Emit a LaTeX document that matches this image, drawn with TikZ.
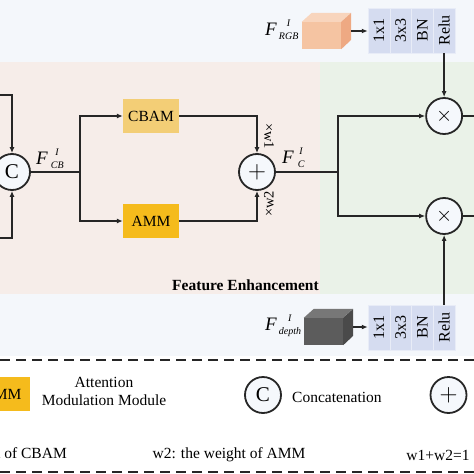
\documentclass[tikz,border=0pt]{standalone}
\usepackage{fontspec}
\setmainfont{Liberation Serif}
\usepackage{graphicx}
\usepackage{tikz}
\usetikzlibrary{arrows.meta,
                calc,
                positioning}

\definecolor{skyback}{HTML}{F4F7FB}
\definecolor{pinkback}{HTML}{F6EDE9}
\definecolor{greenback}{HTML}{EAF2E8}
\definecolor{cbamcol}{HTML}{F3CE76}
\definecolor{ammcol}{HTML}{F5BB1C}
\definecolor{convcol}{HTML}{D5DCF0}
\definecolor{opfill}{HTML}{F5F8FC}
\definecolor{linecol}{HTML}{262626}
\definecolor{rgbfront}{HTML}{F5C4A2}
\definecolor{rgbtop}{HTML}{F8D5BD}
\definecolor{rgbside}{HTML}{EEA983}
\definecolor{depthfront}{HTML}{5C5C5C}
\definecolor{depthtop}{HTML}{777777}
\definecolor{depthside}{HTML}{4A4A4A}

\newcommand{\featlab}[2]{{\fontsize{19}{19}\selectfont\textit{F}}\hspace{#2}\raisebox{-4pt}{\fontsize{10}{10}\selectfont\shortstack{\textit{I}\\[3pt]\textit{#1}}}}

\begin{document}
\begin{tikzpicture}[x=1pt, y=-1pt,
    font=\fontsize{15.5}{18}\selectfont,
    line/.style={draw=linecol, line width=1.4pt},
    arr/.style={line, -{Latex[length=6pt,width=5pt]}},
    opc/.style={circle, draw=linecol, line width=1.8pt, fill=opfill, minimum size=36pt, inner sep=0pt},
    attbox/.style={rectangle, minimum width=56pt, minimum height=34pt, inner sep=0pt},
    convcell/.style={rectangle, fill=convcol, draw=convcol!55!white, line width=0.5pt, minimum width=21.75pt, minimum height=45pt, inner sep=0pt, font=\fontsize{16}{18}\selectfont},
    cube/.style={rectangle, minimum width=39pt, minimum height=27pt, inner sep=0pt}]

\clip (0,0) rectangle (474,474);

% backgrounds
\fill[skyback] (0,0) rectangle (474,356);
\fill[pinkback] (0,62) rectangle (320,294);
\fill[greenback] (320,62) rectangle (474,294);

% input cubes
\node[cube, fill=rgbfront] (rgbcube) at (321.5,35.5) {};
\fill[rgbtop] (rgbcube.north west) -- ++(10,-9) -- ++(39,0) -- (rgbcube.north east) -- cycle;
\fill[rgbside] (rgbcube.north east) -- ++(10,-9) -- ++(0,27) -- (rgbcube.south east) -- cycle;
\node[cube, fill=depthfront] (depcube) at (323.5,331.5) {};
\fill[depthtop] (depcube.north west) -- ++(10,-9) -- ++(39,0) -- (depcube.north east) -- cycle;
\fill[depthside] (depcube.north east) -- ++(10,-9) -- ++(0,27) -- (depcube.south east) -- cycle;
\coordinate (rgbout) at ($(rgbcube.east)+(10,-4.5)$);
\coordinate (depout) at ($(depcube.east)+(10,-4.5)$);

\node[anchor=west, inner sep=0pt] (frgb) at (265,30) {\featlab{RGB}{2pt}};
\node[anchor=west, inner sep=0pt] (fdep) at (265,326) {\featlab{depth}{2pt}};

% conv blocks
\foreach \lab [count=\i] in {1x1,3x3,BN,Relu} {
    \node[convcell] (rgb\i) at ({357.125+21.75*\i},30.5) {\rotatebox{90}{\lab}};
    \node[convcell] (dep\i) at ({357.125+21.75*\i},327.5) {\rotatebox{90}{\lab}};
}

% main nodes
\node[opc, font=\fontsize{21}{21}\selectfont] (cat) at (12,172) {C};
\node[attbox, fill=cbamcol] (cbam) at (151,116) {CBAM};
\node[attbox, fill=ammcol] (amm) at (151,221) {AMM};
\node[opc, font=\fontsize{25}{25}\selectfont] (add) at (257,172) {$+$};
\node[opc, font=\fontsize{20}{20}\selectfont] (mulA) at (444.125,116) {$\times$};
\node[opc, font=\fontsize{20}{20}\selectfont] (mulB) at (444.125,216) {$\times$};

\node[anchor=west, inner sep=0pt] (fcb) at (36,159) {\featlab{CB}{3pt}};
\node[anchor=west, inner sep=0pt] (fc) at (282,158) {\featlab{C}{4pt}};
\node[rotate=-90, font=\fontsize{14.5}{14.5}\selectfont] (wa) at (269,136) {×w1};
\node[rotate=90, font=\fontsize{14.5}{14.5}\selectfont] (wb) at (269,204) {×w2};
\node[font=\fontsize{15.5}{18}\bfseries] (fe) at (245.5,285) {Feature Enhancement};

% connectors
\coordinate (inA) at (-5,95);
\coordinate (inB) at (-5,238);
\coordinate (catsplit) at (80,172);
\coordinate (addsplit) at (338,172);
\coordinate (outA) at (480,116);
\coordinate (outB) at (480,216);

\draw[arr] (inA) -| (cat.north);
\draw[arr] (inB) -| (cat.south);
\draw[line] (cat.east) -- (catsplit);
\draw[arr] (catsplit) |- (cbam.west);
\draw[arr] (catsplit) |- (amm.west);
\draw[arr] (cbam.east) -| (add.north);
\draw[arr] (amm.east) -| (add.south);
\draw[line] (add.east) -- (addsplit);
\draw[arr] (addsplit) |- (mulA.west);
\draw[arr] (addsplit) |- (mulB.west);
\draw[line] (mulA.east) -- (outA);
\draw[line] (mulB.east) -- (outB);
\draw[arr] (rgbout) -- (rgbout -| rgb1.west);
\draw[arr] (depout) -- (depout -| dep1.west);
\draw[arr] (rgb4.south) -- (mulA.north);
\draw[arr] (dep4.north) -- (mulB.south);

% legend
\draw[line, line width=1.8pt, dash pattern=on 10pt off 6pt] (0,360) -- (474,360);
\draw[line, line width=1.8pt, dash pattern=on 10pt off 6pt] (0,472) -- (474,472);

\node[attbox, fill=ammcol] (ammkey) at (2,394) {AMM};
\node[align=center, inner sep=0pt] (ammtext) at (104,391) {Attention\\Modulation Module};
\node[opc, font=\fontsize{21}{21}\selectfont] (catkey) at (263,395) {C};
\node[anchor=west, inner sep=0pt] (cattext) at (292,397) {Concatenation};
\node[opc, font=\fontsize{25}{25}\selectfont] (addkey) at (448.5,395) {$+$};

\node[anchor=east, inner sep=0pt] (wonetext) at (67,455) {w1: the weight of CBAM};
\node[inner sep=0pt] (wtwotext) at (229,455) {w2: the weight of AMM};
\node[inner sep=0pt] (sumtext) at (438,455) {w1+w2=1};

\end{tikzpicture}
\end{document}
